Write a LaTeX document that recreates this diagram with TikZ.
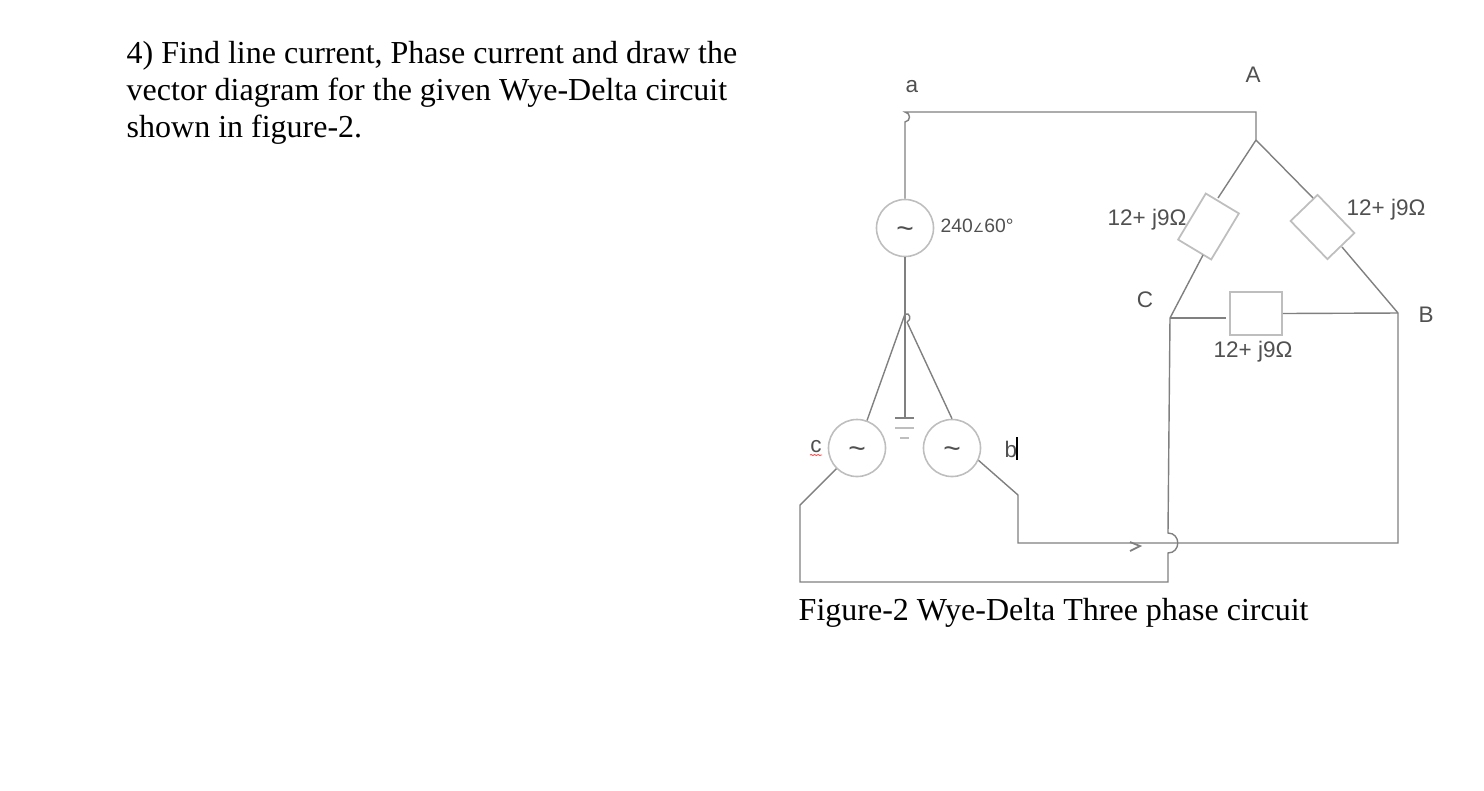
\documentclass[tikz,border=0pt]{standalone}
\usepackage{fontspec}
\usepackage{tikz}
\usetikzlibrary{decorations.pathmorphing}
\setmainfont{Liberation Serif}
\setsansfont{Liberation Sans}
\newfontfamily\symfont{DejaVu Sans}
\definecolor{wirecol}{HTML}{808080}
\definecolor{boxcol}{HTML}{BEBEBE}
\definecolor{labelcol}{HTML}{505050}
\newcommand{\srctilde}{\raisebox{-0.1cm}[0pt][0pt]{\textasciitilde}}
\tikzset{
  wire/.style={draw=wirecol, line width=0.4pt},
  srcnode/.style={circle, draw=boxcol, line width=0.45pt, minimum size=0.57cm, inner sep=0pt, font=\sffamily\fontsize{8.5}{8.5}\selectfont, text=labelcol},
  loadbox/.style={rectangle, draw=boxcol, line width=0.5pt, inner sep=0pt},
  lbl/.style={font=\sffamily\fontsize{6.4}{7}\selectfont, text=labelcol, inner sep=0pt},
  prose/.style={font=\fontsize{9.1}{10.6}\selectfont, text=black, inner sep=0pt, align=left}
}
\begin{document}
\begin{tikzpicture}[x=0.01cm, y=-0.01cm]
\useasboundingbox (0,0) rectangle (1484,790);

%% question and caption
\node[prose, anchor=north west] (question) at (126,40.5) {4) Find line current, Phase current and draw the\\vector diagram for the given Wye-Delta circuit\\shown in figure-2.};
\node[prose, anchor=west] (caption) at (798,613) {Figure-2 Wye-Delta Three phase circuit};

%% sources
\node[srcnode] (srca) at (905,228) {\srctilde};
\node[srcnode] (srcc) at (857,448) {\srctilde};
\node[srcnode] (srcb) at (952,448) {\srctilde};

%% load boxes
\node[loadbox, minimum width=0.386cm, minimum height=0.537cm, rotate=-31] (zca) at (1208.5,226.5) {};
\node[loadbox, minimum width=0.53cm, minimum height=0.375cm, rotate=-46] (zab) at (1322.5,227) {};
\node[loadbox, minimum width=0.52cm, minimum height=0.43cm] (zbc) at (1256,313.5) {};

%% corners
\coordinate (nA) at (1256,140);
\coordinate (nB) at (1398,313);
\coordinate (nC) at (1170,318);
\coordinate (nN) at (905,314);
\coordinate (nNb) at (907,322);
\coordinate (topa) at (905,122);
\coordinate (topb) at (905,112);
\coordinate (topA) at (1256,112);
\coordinate (gnd) at (905,418);
\coordinate (gnda) at (895,418);
\coordinate (gndb) at (914,418);
\coordinate (gndc) at (895,428);
\coordinate (gndd) at (914,428);
\coordinate (gnde) at (900,438);
\coordinate (gndf) at (909,438);
\coordinate (bb) at (1018,495);
\coordinate (bc) at (1018,543);
\coordinate (bd) at (1398,543);
\coordinate (cca) at (800,505);
\coordinate (ccb) at (800,582);
\coordinate (ccc) at (1168,582);
\coordinate (jpa) at (1168,533);
\coordinate (jpb) at (1168,553);
\coordinate (loadl) at (1226,318);
\coordinate (zcatop) at (1218,198);
\coordinate (zcabot) at (1203,255);
\coordinate (zabtop) at (1313,198);
\coordinate (zabbot) at (1342,247);
\coordinate (arra) at (1130,542);
\coordinate (arrb) at (1140,546);
\coordinate (arrc) at (1130,551);
\coordinate (carb) at (1017,437);
\coordinate (carc) at (1017,460);
\coordinate (sqa) at (810,455);
\coordinate (sqb) at (822,455);

%% edges
\draw[wire] (srca.north) -- (topa) .. controls (911,121) and (911,113) .. (topb) -- (topA) -- (nA);
\draw[wire] (srca.south) -- (nN);
\draw[wire] (nN) .. controls (910,312) and (912,320) .. (nNb);
\draw[wire] (nN) -- (srcc.70);
\draw[wire] (nNb) -- (srcb.north);
\draw[wire] (nN) -- (gnd);
\draw[wire] (srcb.-25) -- (bb) -- (bc) -- (bd) -- (nB);
\draw[wire] (srcc.225) -- (cca) -- (ccb) -- (ccc) -- (jpb) .. controls (1181,553) and (1181,533) .. (jpa) -- (nC);
\draw[wire] (nA) -- (zcatop);
\draw[wire] (zcabot) -- (nC);
\draw[wire] (nA) -- (zabtop);
\draw[wire] (zabbot) -- (nB);
\draw[wire] (nC) -- (loadl);
\draw[wire] (zbc.east) -- (nB);

%% ground bars
\draw[wire] (gnda) -- (gndb);
\draw[draw=boxcol, line width=0.4pt] (gndc) -- (gndd);
\draw[draw=boxcol, line width=0.4pt] (gnde) -- (gndf);

%% arrow
\draw[wire, line width=0.5pt] (arra) -- (arrb) -- (arrc);

%% labels
\node[lbl] (la) at (912,87) {a};
\node[lbl] (lA) at (1253,75) {A};
\node[lbl, anchor=west, font=\sffamily\fontsize{5.5}{7}\selectfont] (lsrc) at (940,226) {240{\symfont\fontsize{3.6}{7}\selectfont∠}60°};
\node[lbl] (lzca) at (1147,220) {12+ j9Ω};
\node[lbl] (lzab) at (1386,210) {12+ j9Ω};
\node[lbl] (lzbc) at (1253,352) {12+ j9Ω};
\node[lbl] (lC) at (1145,300) {C};
\node[lbl] (lB) at (1426,315) {B};
\node[lbl] (lc) at (816,447) {c};
\node[lbl] (lb) at (1011,449) {b};

%% cursor and spelling mark
\draw[black, line width=0.3pt] (carb) -- (carc);
\draw[red!70, line width=0.25pt, decorate, decoration={snake, amplitude=0.15pt, segment length=1pt}] (sqa) -- (sqb);
\end{tikzpicture}
\end{document}
